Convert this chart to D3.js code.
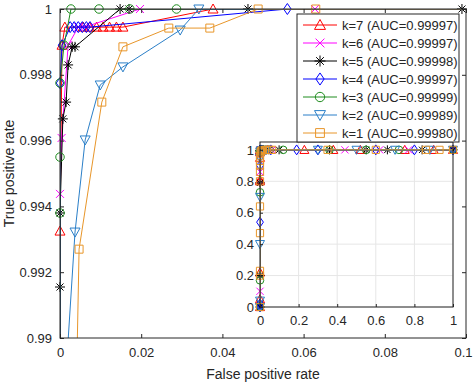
<!DOCTYPE html>
<html>
<head>
<meta charset="utf-8">
<script src="https://cdn.jsdelivr.net/npm/d3@7"></script>
<style>
  body { margin: 0; background: #fff; }
  svg { font-family: "Liberation Sans", Arial, sans-serif; }
</style>
</head>
<body>
<script>
// legend order (drawn first to last)
const labels = ["k=7", "k=6", "k=5", "k=4", "k=3", "k=2", "k=1"];
const aucs = ["0.99997", "0.99997", "0.99998", "0.99997", "0.99999", "0.99989", "0.99980"];
const colors = ["#ff0000", "#ff00ff", "#000000", "#0000ff", "#1e8c1e", "#2b7fc8", "#e8962a"];
const markers = ["tri", "x", "star", "diamond", "circle", "tridown", "square"];

// [false positive rate, true positive rate]
const k7 = [[0,0],[0,0.05],[0,0.22],[0,0.8],[0,0.81],[0,0.95],[0,0.985],[0,0.99325],[0.0005,0.9989],
  [0.0012,0.99945],[0.0057,0.99945],[0.0073,0.99945],[0.009,0.99945],[0.0106,0.99945],[0.0122,0.99945],
  [0.0139,0.99945],[0.0155,0.99945],[0.0377,1],[0.23,1],[0.38,1],[0.52,1],[0.75,1],[0.9,1],[1,1]];
const k6 = [[0,0],[0,0.1],[0,0.86],[0,0.985],[0,0.99438],[0.0004,0.99608],[0.002,0.9989],
  [0.0045,0.99945],[0.006,0.99945],[0.0197,1],[0.0628,1],[0.44,1],[0.62,1],[0.77,1],[1,1]];
const k5 = [[0,0],[0,0.02],[0,0.2],[0,0.79],[0,0.99155],[0,0.9938],[0.0007,0.99666],[0.0015,0.99717],
  [0.002,0.9983],[0.003,0.99885],[0.0037,0.99885],[0.0148,1],[0.017,1],[0.0463,1],[0.099,1],
  [0.36,1],[0.55,1],[0.66,1],[0.84,1],[1,1]];
const k4 = [[0,0],[0,0.02],[0,0.54],[0,0.9],[0,0.985],[0,0.99775],[0.0005,0.9989],[0.0025,0.99945],
  [0.0035,0.99945],[0.0045,0.99945],[0.0055,0.99945],[0.0065,0.99945],[0.0074,0.99945],[0.056,1],
  [0.19,1],[0.3,1],[0.6,1],[0.8,1],[1,1]];
const k3 = [[0,0],[0,0.17],[0,0.73],[0,0.985],[0,0.9938],[0,0.9955],[0,0.99775],[0.001,0.9989],
  [0.0027,1],[0.0096,1],[0.0172,1],[0.0287,1],[0.12,1],[0.36,1],[0.55,1],[0.72,1],[1,1]];
const k2 = [[0,0],[0,0.04],[0,0.4],[0,0.7],[0,0.95],[0.001,0.988],[0.0037,0.99322],[0.0062,0.99602],
  [0.0099,0.99769],[0.0155,0.99824],[0.0296,0.99936],[0.0342,1],[0.3,1],[0.5,1],[0.7,1],[0.88,1],[1,1]];
const k1 = [[0,0],[0,0.2],[0,0.23],[0,0.47],[0,0.64],[0,0.8],[0,0.86],[0,0.9],[0,0.93],[0,0.96],
  [0.0035,0.985],[0.0047,0.9927],[0.0103,0.99717],[0.0155,0.99885],[0.0268,0.99942],[0.0369,0.99942],
  [0.0488,1],[0.063,1],[0.35,1],[0.6,1],[0.86,1],[0.93,1],[1,1]];
const series = [k7, k6, k5, k4, k3, k2, k1];

const mainXTicks = [0, 0.02, 0.04, 0.06, 0.08, 0.1];
const mainYTicks = [0.99, 0.992, 0.994, 0.996, 0.998, 1];
const insetTicks = [0, 0.2, 0.4, 0.6, 0.8, 1];

const W = 474, H = 384;
const axisColor = "#262626";

const svg = d3.select("body").append("svg")
  .attr("width", W).attr("height", H);

function markerPath(type, s) {
  const r = s / 2;
  if (type === "tri") {
    return `M0,${-r}L${r},${r * 0.8}L${-r},${r * 0.8}Z`;
  } else if (type === "tridown") {
    return `M0,${r}L${r},${-r * 0.8}L${-r},${-r * 0.8}Z`;
  } else if (type === "x") {
    const a = r * 0.8;
    return `M${-a},${-a}L${a},${a}M${-a},${a}L${a},${-a}`;
  } else if (type === "star") {
    const a = r * 0.7;
    return `M${-r},0L${r},0M0,${-r}L0,${r}M${-a},${-a}L${a},${a}M${-a},${a}L${a},${-a}`;
  } else if (type === "diamond") {
    return `M0,${-r * 1.1}L${r * 0.75},0L0,${r * 1.1}L${-r * 0.75},0Z`;
  } else if (type === "square") {
    const a = r * 0.8;
    return `M${-a},${-a}H${a}V${a}H${-a}Z`;
  }
  return d3.arc()({ innerRadius: 0, outerRadius: r * 0.85, startAngle: 0, endAngle: 2 * Math.PI });
}

function drawSeries(g, x, y, clipId, size, xmax, ymin) {
  const line = d3.line().x(d => x(d[0])).y(d => y(d[1]));
  series.forEach((data, i) => {
    g.append("path")
      .attr("d", line(data))
      .attr("clip-path", `url(#${clipId})`)
      .attr("fill", "none")
      .attr("stroke", colors[i])
      .attr("stroke-width", 1);
    g.selectAll(null)
      .data(data.filter(d => d[0] <= xmax * 1.001 && d[1] >= ymin))
      .enter().append("path")
      .attr("transform", d => `translate(${x(d[0])},${y(d[1])})`)
      .attr("d", markerPath(markers[i], size))
      .attr("fill", "none")
      .attr("stroke", colors[i])
      .attr("stroke-width", 1);
  });
}

// ---------- main axes
const m = { left: 60, right: 466, top: 9, bottom: 338 };
const x = d3.scaleLinear().domain([0, 0.1]).range([m.left, m.right]);
const y = d3.scaleLinear().domain([0.99, 1]).range([m.bottom, m.top]);

const defs = svg.append("defs");
defs.append("clipPath").attr("id", "clipMain").append("rect")
  .attr("x", m.left).attr("y", m.top).attr("width", m.right - m.left).attr("height", m.bottom - m.top);

const gMain = svg.append("g");
drawSeries(gMain, x, y, "clipMain", 10, 0.1, 0.99);

// frame and ticks
svg.append("rect")
  .attr("x", m.left).attr("y", m.top).attr("width", m.right - m.left).attr("height", m.bottom - m.top)
  .attr("fill", "none").attr("stroke", axisColor).attr("stroke-width", 1);

const xAxis = svg.append("g").attr("transform", `translate(0,${m.bottom})`)
  .call(d3.axisBottom(x).tickValues(mainXTicks).tickSizeInner(-4).tickSizeOuter(0)
    .tickFormat(d => d3.format("~g")(d)).tickPadding(10));
const xAxisTop = svg.append("g").attr("transform", `translate(0,${m.top})`)
  .call(d3.axisTop(x).tickValues(mainXTicks).tickSizeInner(-4).tickSizeOuter(0).tickFormat(""));
const yAxis = svg.append("g").attr("transform", `translate(${m.left},0)`)
  .call(d3.axisLeft(y).tickValues(mainYTicks).tickSizeInner(-4).tickSizeOuter(0)
    .tickFormat(d => d3.format("~g")(+d.toFixed(3))).tickPadding(8));
const yAxisRight = svg.append("g").attr("transform", `translate(${m.right},0)`)
  .call(d3.axisRight(y).tickValues(mainYTicks).tickSizeInner(-4).tickSizeOuter(0).tickFormat(""));

[xAxis, xAxisTop, yAxis, yAxisRight].forEach(a => {
  a.select(".domain").remove();
  a.selectAll("line").attr("stroke", axisColor);
  a.selectAll("text").attr("fill", axisColor).attr("font-size", 13)
    .attr("font-family", "'Liberation Sans', Arial, sans-serif");
});
// last label sits against the window edge, as in the reference
xAxis.selectAll(".tick").filter(d => d === 0.1).select("text").attr("dx", -3);

svg.append("text")
  .attr("x", (m.left + m.right) / 2).attr("y", 379)
  .attr("text-anchor", "middle").attr("font-size", 14).attr("fill", axisColor)
  .text("False positive rate");
svg.append("text")
  .attr("transform", `translate(14,${(m.top + m.bottom) / 2}) rotate(-90)`)
  .attr("text-anchor", "middle").attr("font-size", 14).attr("fill", axisColor)
  .text("True positive rate");

// ---------- inset axes
const ins = { left: 260, right: 453, top: 142, bottom: 307 };
const xi = d3.scaleLinear().domain([0, 1]).range([ins.left, ins.right]);
const yi = d3.scaleLinear().domain([0, 1.05]).range([ins.bottom, ins.top]);

defs.append("clipPath").attr("id", "clipInset").append("rect")
  .attr("x", ins.left).attr("y", ins.top).attr("width", ins.right - ins.left).attr("height", ins.bottom - ins.top);

const gInset = svg.append("g");
gInset.append("rect")
  .attr("x", ins.left).attr("y", ins.top).attr("width", ins.right - ins.left).attr("height", ins.bottom - ins.top)
  .attr("fill", "#fff");

// grid
gInset.selectAll(".gx").data(insetTicks).enter().append("line")
  .attr("x1", d => xi(d)).attr("x2", d => xi(d)).attr("y1", ins.top).attr("y2", ins.bottom)
  .attr("stroke", "#e6e6e6");
gInset.selectAll(".gy").data(insetTicks).enter().append("line")
  .attr("x1", ins.left).attr("x2", ins.right).attr("y1", d => yi(d)).attr("y2", d => yi(d))
  .attr("stroke", "#e6e6e6");

drawSeries(gInset, xi, yi, "clipInset", 9, 1, 0);

gInset.append("rect")
  .attr("x", ins.left).attr("y", ins.top).attr("width", ins.right - ins.left).attr("height", ins.bottom - ins.top)
  .attr("fill", "none").attr("stroke", axisColor).attr("stroke-width", 1);

const xiAxis = gInset.append("g").attr("transform", `translate(0,${ins.bottom})`)
  .call(d3.axisBottom(xi).tickValues(insetTicks).tickSizeInner(-3).tickSizeOuter(0)
    .tickFormat(d3.format("~g")).tickPadding(9));
const yiAxis = gInset.append("g").attr("transform", `translate(${ins.left},0)`)
  .call(d3.axisLeft(yi).tickValues(insetTicks).tickSizeInner(-3).tickSizeOuter(0)
    .tickFormat(d3.format("~g")).tickPadding(6));
[xiAxis, yiAxis].forEach(a => {
  a.select(".domain").remove();
  a.selectAll("line").attr("stroke", axisColor);
  a.selectAll("text").attr("fill", axisColor).attr("font-size", 13)
    .attr("font-family", "'Liberation Sans', Arial, sans-serif");
});

// ---------- legend
const lg = { x: 297, y: 14, w: 162, rowH: 18 };
const gLeg = svg.append("g");
gLeg.append("rect")
  .attr("x", lg.x).attr("y", lg.y).attr("width", lg.w).attr("height", lg.rowH * labels.length + 2)
  .attr("fill", "#fff").attr("stroke", axisColor).attr("stroke-width", 1);
labels.forEach((lab, i) => {
  const cy = lg.y + 11 + i * lg.rowH;
  gLeg.append("line")
    .attr("x1", lg.x + 6).attr("x2", lg.x + 40).attr("y1", cy).attr("y2", cy)
    .attr("stroke", colors[i]).attr("stroke-width", 1);
  gLeg.append("path")
    .attr("transform", `translate(${lg.x + 23},${cy})`)
    .attr("d", markerPath(markers[i], 11))
    .attr("fill", "none").attr("stroke", colors[i]).attr("stroke-width", 1);
  gLeg.append("text")
    .attr("x", lg.x + 45).attr("y", cy + 4.5)
    .attr("font-size", 13).attr("fill", axisColor)
    .text(`${lab} (AUC=${aucs[i]})`);
});
</script>
</body>
</html>
